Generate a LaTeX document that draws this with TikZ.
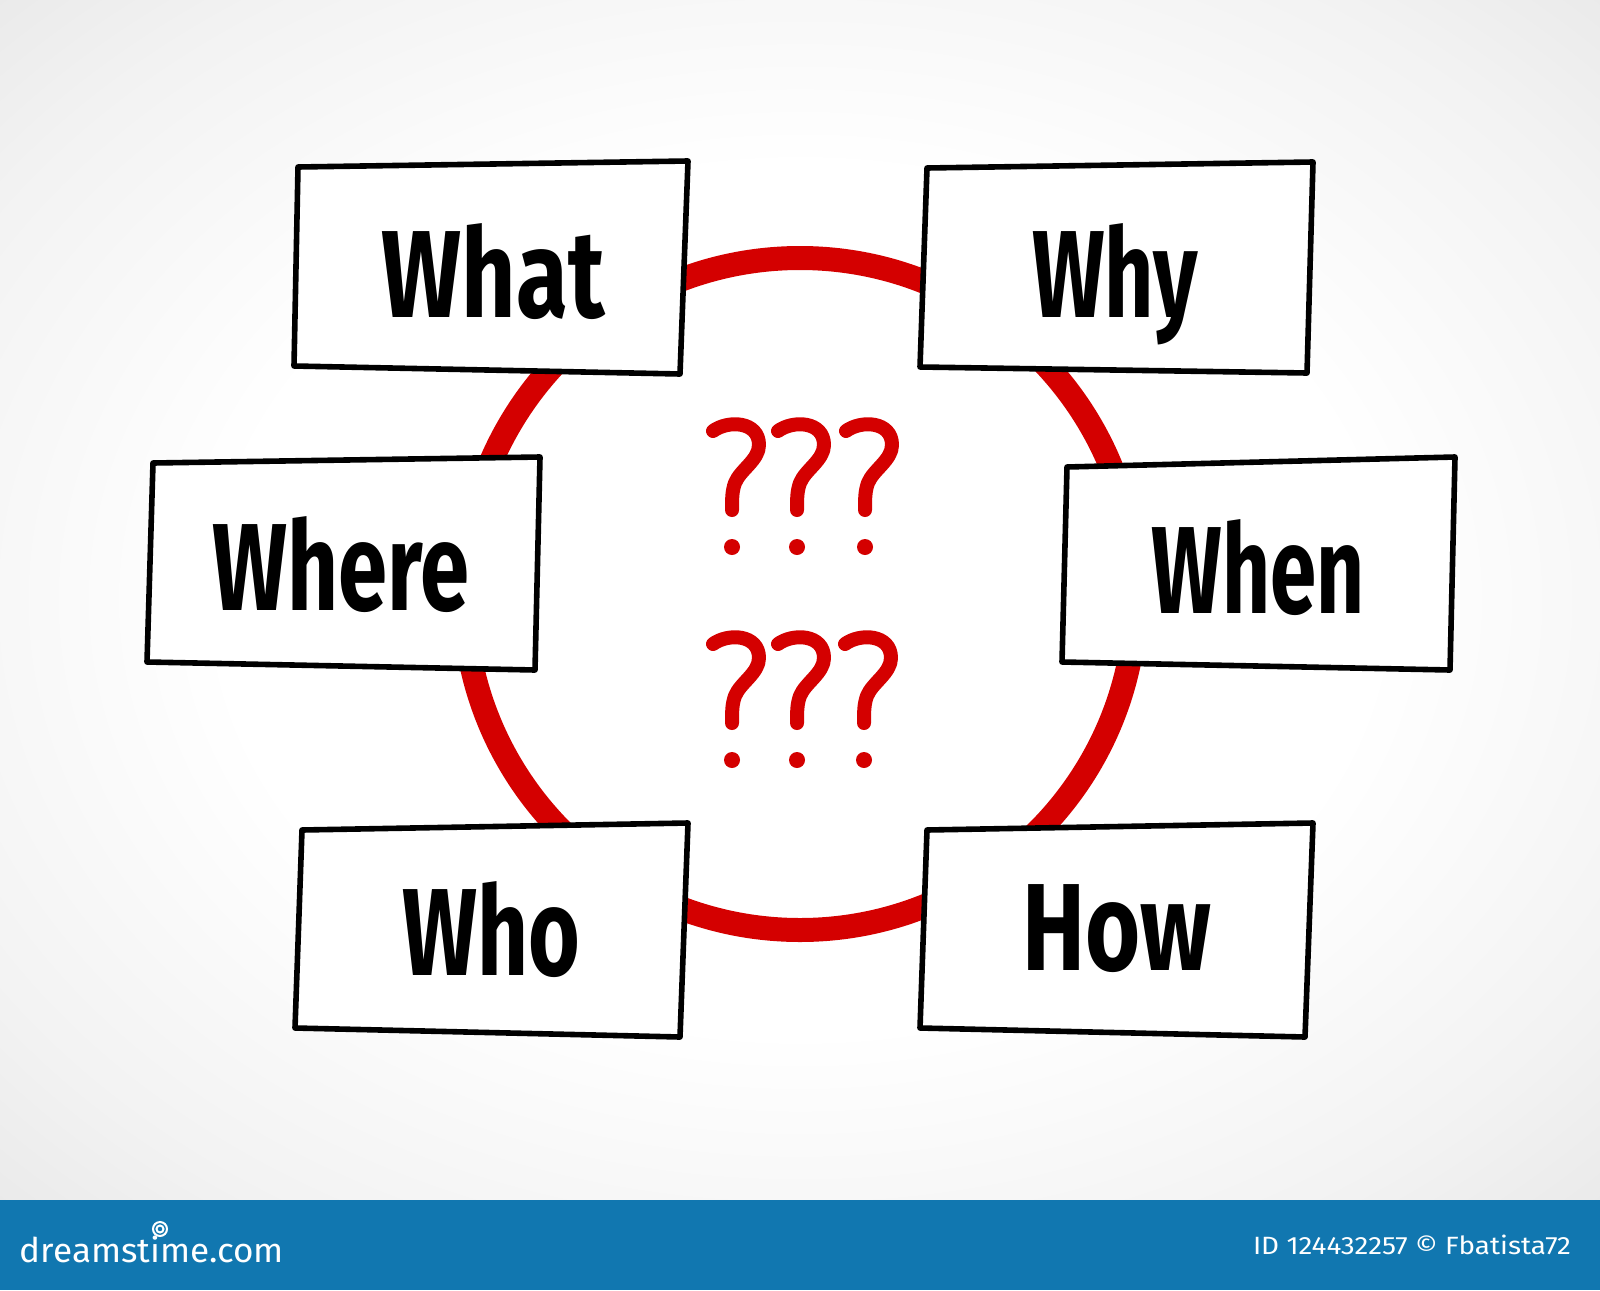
\documentclass[tikz,border=0pt]{standalone}
\usepackage{fontspec}
\setmainfont{Fira Sans}
\usepackage{graphicx}
\definecolor{qred}{RGB}{212,0,0}
\definecolor{barblue}{RGB}{17,119,176}
\pgfdeclareradialshading{vign}{\pgfpoint{0bp}{0bp}}{color(0bp)=(white); color(18bp)=(white); color(30bp)=(black!5); color(42bp)=(black!12); color(55bp)=(black!18); color(70bp)=(black!24)}
\newcommand{\fitw}[2]{\resizebox{#1}{\height}{#2}}
\tikzset{
  card/.style={draw=black, fill=white, line width=2.8pt, line join=round},
  ring/.style={draw=qred, line width=12pt},
  word/.style={anchor=base, inner sep=0pt, font=\fontsize{62}{62}\selectfont\bfseries},
  qmark/.style={draw=qred, line width=7pt, line cap=round, line join=round},
  foot/.style={anchor=base, inner sep=0pt, text=white},
  qm/.pic={
    \draw[qmark] (-19,-116) .. controls (-4,-127) and (27,-126) .. (27,-102)
                 .. controls (27,-87) and (8,-77) .. (3,-64)
                 .. controls (0,-56) and (0,-48) .. (0,-37);
    \fill[qred] (0,0) circle (8);
  }
}
\begin{document}
\begin{tikzpicture}[x=0.5pt,y=-0.5pt]
\useasboundingbox (0,0) rectangle (1600,1290);
% background
\shade[shading=vign] (0,0) rectangle (1600,1200);
% red ring
\draw[ring] (800,594) circle (336);
% cards
\draw[card] (298,167) -- (688,161) -- (680,374) -- (294,366) -- cycle;
\draw[card] (927,168) -- (1313,162) -- (1307,373) -- (920,367) -- cycle;
\draw[card] (153,463) -- (540,457) -- (535,670) -- (147,662) -- cycle;
\draw[card] (1067,467) -- (1455,457) -- (1450,670) -- (1062,662) -- cycle;
\draw[card] (302,830) -- (688,823) -- (680,1037) -- (295,1028) -- cycle;
\draw[card] (927,830) -- (1313,823) -- (1305,1037) -- (920,1028) -- cycle;
% words
\node[word] (what)  at (493,317)  {\fitw{111.5pt}{What}};
\node[word] (why)   at (1115,317) {\fitw{83pt}{Why}};
\node[word] (where) at (341,610)  {\fitw{128.5pt}{Where}};
\node[word] (when)  at (1258,613) {\fitw{106.5pt}{When}};
\node[word] (who)   at (491,975)  {\fitw{89pt}{Who}};
\node[word] (how)   at (1117,970) {\fitw{94.5pt}{How}};
% question marks
\pic at (732,547) {qm};
\pic at (797,547) {qm};
\pic at (865,547) {qm};
\pic at (732,760) {qm};
\pic at (797,760) {qm};
\pic at (864,760) {qm};
% footer bar
\fill[barblue] (0,1200) rectangle (1600,1290);
\node[foot] (site) at (152,1262) {\fitw{132pt}{\fontsize{17}{17}\selectfont dreamstime.com}};
\draw[white, line width=1pt] (160,1229) circle (7) (160,1229) circle (3.5);
\node[foot] (credit) at (1412,1254) {\fitw{159pt}{\fontsize{12.5}{12.5}\selectfont ID 124432257 © Fbatista72}};
\end{tikzpicture}
\end{document}
